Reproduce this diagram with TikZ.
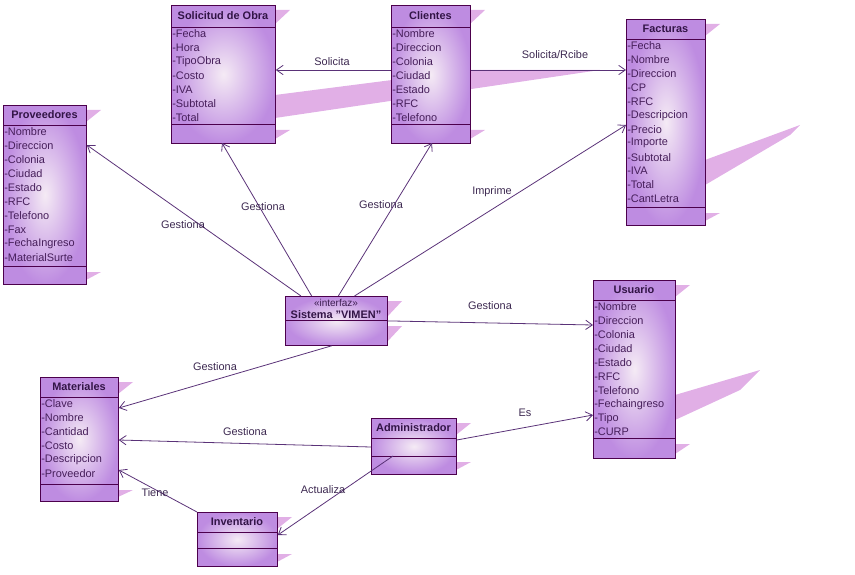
\documentclass[tikz,border=0pt]{standalone}
\usepackage{fontspec}
\setmainfont{Liberation Sans}
\usetikzlibrary{arrows.meta}
\begin{document}
\begin{tikzpicture}[x=0.75pt,y=-0.75pt,
  box/.style={draw=violet!60!black,line width=0.6pt,inner color=violet!8,outer color={rgb,255:red,190;green,140;blue,225},anchor=north west,inner sep=0pt},
  sep/.style={draw=violet!60!black,line width=0.6pt},
  attr/.style={anchor=west,font=\fontsize{8.2}{9}\selectfont,text={rgb,255:red,70;green,30;blue,90},inner sep=0pt},
  ttl/.style={anchor=center,font=\bfseries\fontsize{8.2}{9}\selectfont,text={rgb,255:red,50;green,20;blue,70},inner sep=0pt},
  sh/.style={fill={rgb,255:red,225;green,175;blue,230},draw=none},
  con/.style={draw={rgb,255:red,90;green,50;blue,120},line width=0.6pt,-{Straight Barb[length=5pt,width=7pt]}},
  lbl/.style={font=\fontsize{8.2}{9}\selectfont,text={rgb,255:red,60;green,40;blue,80},inner sep=1pt,fill=white,fill opacity=0,text opacity=1}]
\useasboundingbox (0,0) rectangle (855,574);
\newcommand\umlbox[9]{%
  \fill[sh] (#4,#3+5) -- (#4+15,#3+5) -- (#4,#5-3) -- cycle;
  \fill[sh] (#4,#6+6) -- (#4+15,#6+6) -- (#4,#7-4) -- cycle;
  \node[box,minimum width={(#4-#2)*0.75pt},minimum height={(#7-#3)*0.75pt}] (#1) at (#2,#3) {};
  \draw[sep] (#2,#5) -- (#4,#5) (#2,#6) -- (#4,#6);
  \node[ttl] (#1-t) at ({(#2+#4)/2},{(#3+#5)/2}) {#8};
  \foreach \a [count=\i] in {#9} {\node[attr] at (#2+1,{#5+7+(\i-1)*13.9}) {-\a};}
}
\fill[sh] (470,70) -- (600,70) -- (275,118) -- (275,95) -- cycle;
\fill[sh] (705,160) -- (800,125) -- (790,135) -- (705,185) -- cycle;
\fill[sh] (675,395) -- (760,370) -- (740,390) -- (675,420) -- cycle;
\umlbox{sol}{171}{5}{275}{27}{124}{143}{Solicitud de Obra}{Fecha,Hora,TipoObra,Costo,IVA,Subtotal,Total}
\umlbox{cli}{391}{5}{470}{27}{124}{143}{Clientes}{Nombre,Direccion,Colonia,Ciudad,Estado,RFC,Telefono}
\umlbox{fac}{626}{19}{705}{39}{207}{225}{Facturas}{Fecha,Nombre,Direccion,CP,RFC,Descripcion,Precio,Importe,Subtotal,IVA,Total,CantLetra}
\umlbox{pro}{3}{105}{86}{125}{266}{284}{Proveedores}{Nombre,Direccion,Colonia,Ciudad,Estado,RFC,Telefono,Fax,FechaIngreso,MaterialSurte}
\umlbox{usu}{593}{280}{675}{300}{438}{458}{Usuario}{Nombre,Direccion,Colonia,Ciudad,Estado,RFC,Telefono,Fechaingreso,Tipo,CURP}
\umlbox{mat}{40}{377}{118}{397}{484}{501}{Materiales}{Clave,Nombre,Cantidad,Costo,Descripcion,Proveedor}
\umlbox{adm}{371}{418}{456}{438}{456}{474}{Administrador}{}
\umlbox{inv}{197}{512}{277}{532}{548}{566}{Inventario}{}
\fill[sh] (387,301) -- (402,301) -- (387,317) -- cycle;
\fill[sh] (387,326) -- (402,326) -- (387,342) -- cycle;
\node[box,minimum width={102*0.75pt},minimum height={49*0.75pt}] (sis) at (285,296) {};
\draw[sep] (285,320) -- (387,320);
\node[font=\fontsize{7.5}{8}\selectfont,text={rgb,255:red,60;green,30;blue,80},inner sep=0pt] (sis-s) at (336,303) {«interfaz»};
\node[ttl] (sis-t) at (336,315) {Sistema "VIMEN"};
% connectors
\draw[con] (cli.west|-0,70) -- (sol.east|-0,70);
\node[lbl] (l1) at (332,62) {Solicita};
\draw[con] (cli.east|-0,70) -- (fac.west|-0,70);
\node[lbl] (l2) at (555,55) {Solicita/Rcibe};
\draw[con] ([xshift=12]sis.north west) -- (pro.east|-0,145);
\node[lbl] (l3) at (183,225) {Gestiona};
\draw[con] ([xshift=20]sis.north west) -- (222,143);
\node[lbl] (l4) at (263,207) {Gestiona};
\draw[con] ([xshift=40]sis.north west) -- (432,143);
\node[lbl] (l5) at (381,205) {Gestiona};
\draw[con] ([xshift=-25]sis.north east) -- (fac.west|-0,125);
\node[lbl] (l6) at (492,192) {Imprime};
\draw[con] (sis.east) -- (usu.west|-0,325);
\node[lbl] (l7) at (490,306) {Gestiona};
\draw[con] ([xshift=35]sis.south west) -- (mat.east|-0,408);
\node[lbl] (l8) at (215,367) {Gestiona};
\draw[con] (adm.west|-0,447) -- (mat.east|-0,440);
\node[lbl] (l9) at (245,432) {Gestiona};
\draw[con] (adm.east|-0,440) -- (usu.west|-0,415);
\node[lbl] (l10) at (525,413) {Es};
\draw[con] (393,456) -- (inv.east|-0,535);
\node[lbl] (l11) at (323,490) {Actualiza};
\draw[con] (inv.north west) -- (mat.east|-0,470);
\node[lbl] (l12) at (155,493) {Tiene};
\end{tikzpicture}
\end{document}
